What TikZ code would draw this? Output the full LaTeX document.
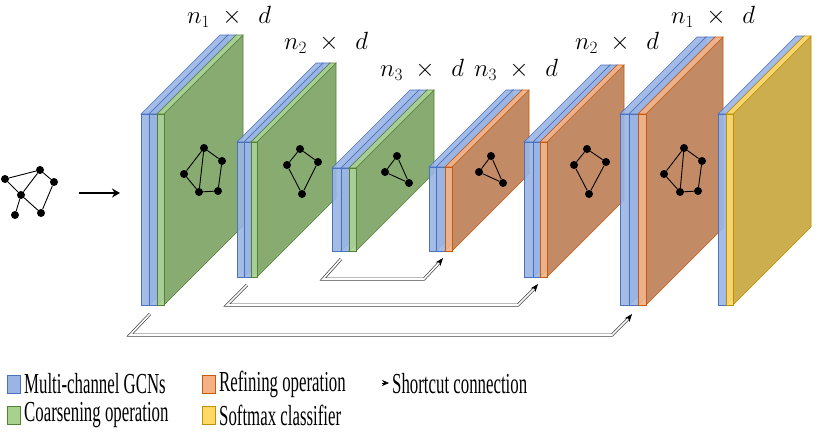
\documentclass[tikz,border=0pt]{standalone}
\usepackage{fontspec}
\setmainfont{Liberation Serif}
\usetikzlibrary{arrows.meta,calc}
\definecolor{bfill}{HTML}{9AB5E3}
\definecolor{bdraw}{HTML}{4A72BE}
\definecolor{gfill}{HTML}{A9D18E}
\definecolor{gdraw}{HTML}{548235}
\definecolor{gside}{HTML}{88AB72}
\definecolor{ofill}{HTML}{F4B183}
\definecolor{odraw}{HTML}{C55A11}
\definecolor{oside}{HTML}{C38B65}
\definecolor{yfill}{HTML}{FFD966}
\definecolor{ydraw}{HTML}{BF9000}
\definecolor{yside}{HTML}{CDAE4E}
\definecolor{sc}{HTML}{404040}
\tikzset{
  dot/.style={circle,fill=black,inner sep=0pt,minimum size=8pt},
  gedge/.style={line width=0.9pt},
  lab/.style={font=\fontsize{26}{30}\selectfont,inner sep=0pt},
  leg/.style={anchor=west,inner sep=0pt},
  shortcut/.style={draw=sc,double=white,double distance=1.6pt,line width=0.7pt},
  tip/.style={line width=0.6pt,-{Stealth[length=8pt,width=6pt]}},
}
\newcommand{\legtext}[1]{\scalebox{0.58}[1]{\fontsize{29}{32}\selectfont #1}}
% slab: x0 x1 ytop ybot fill draw side depth
\newcommand{\myslab}[8]{%
  \fill[#7,draw=#6,line width=0.6pt] (#2,#3) -- ++(#8,-#8) -- ($(#2,#4)+(#8,-#8)$) -- (#2,#4) -- cycle;
  \filldraw[fill=#5,draw=#6,line width=0.6pt,fill opacity=0.9] (#1,#3) -- (#2,#3) -- ++(#8,-#8) -- ($(#1,#3)+(#8,-#8)$) -- cycle;
  \filldraw[fill=#5,draw=#6,line width=0.6pt,fill opacity=0.9] (#1,#3) rectangle (#2,#4);
}
\begin{document}
\begin{tikzpicture}[x=1pt,y=-1pt]
\useasboundingbox (0,0) rectangle (830,437);
% input graph
\node[dot] (i1) at (5,179) {};
\node[dot] (i2) at (40,170) {};
\node[dot] (i3) at (54,182) {};
\node[dot] (i4) at (21,195) {};
\node[dot] (i5) at (15,215) {};
\node[dot] (i6) at (41,213) {};
\draw[gedge] (i1)--(i2) (i1)--(i4) (i2)--(i4) (i2)--(i3) (i3)--(i6) (i4)--(i5) (i4)--(i6);
\coordinate (a0) at (79,193); \coordinate (a1) at (120,193);
\draw[line width=2pt,-{Stealth[length=8pt,width=9pt]}] (a0)--(a1);
% block 1
\myslab{141}{149}{114}{305}{bfill}{bdraw}{bfill}{79}
\myslab{149}{157}{114}{305}{bfill}{bdraw}{bfill}{79}
\myslab{157}{164}{114}{305}{gfill}{gdraw}{gside}{79}
% block 2
\myslab{237}{244}{142}{277}{bfill}{bdraw}{bfill}{79}
\myslab{244}{251}{142}{277}{bfill}{bdraw}{bfill}{79}
\myslab{251}{257}{142}{277}{gfill}{gdraw}{gside}{79}
% block 3
\myslab{332}{341}{168}{251}{bfill}{bdraw}{bfill}{78}
\myslab{341}{349}{168}{251}{bfill}{bdraw}{bfill}{78}
\myslab{349}{356}{168}{251}{gfill}{gdraw}{gside}{78}
% block 4
\myslab{429}{436}{167}{251}{bfill}{bdraw}{bfill}{77}
\myslab{436}{445}{167}{251}{bfill}{bdraw}{bfill}{77}
\myslab{445}{452}{167}{251}{ofill}{odraw}{oside}{77}
% block 5
\myslab{524}{533}{142}{277}{bfill}{bdraw}{bfill}{77}
\myslab{533}{540}{142}{277}{bfill}{bdraw}{bfill}{77}
\myslab{540}{547}{142}{277}{ofill}{odraw}{oside}{77}
% block 6
\myslab{620}{629}{114}{305}{bfill}{bdraw}{bfill}{77}
\myslab{629}{638}{114}{305}{bfill}{bdraw}{bfill}{77}
\myslab{638}{646}{114}{305}{ofill}{odraw}{oside}{77}
% block 7
\myslab{718}{726}{114}{305}{bfill}{bdraw}{bfill}{78}
\myslab{726}{733}{114}{305}{yfill}{ydraw}{yside}{78}
% graphs on faces
\node[dot] (p1) at (204,148) {}; \node[dot] (p2) at (222,161) {};
\node[dot] (p3) at (184,174) {}; \node[dot] (p4) at (199,192) {};
\node[dot] (p5) at (218,191) {};
\draw[gedge] (p1)--(p2) (p1)--(p3) (p1)--(p4) (p3)--(p4) (p4)--(p5) (p5)--(p2);
\node[dot] (q1) at (684,148) {}; \node[dot] (q2) at (702,161) {};
\node[dot] (q3) at (664,174) {}; \node[dot] (q4) at (680,192) {};
\node[dot] (q5) at (698,191) {};
\draw[gedge] (q1)--(q2) (q1)--(q3) (q1)--(q4) (q3)--(q4) (q4)--(q5) (q5)--(q2);
\node[dot] (r1) at (300,149) {}; \node[dot] (r2) at (318,162) {};
\node[dot] (r3) at (287,165) {}; \node[dot] (r4) at (302,194) {};
\draw[gedge] (r1)--(r2) (r1)--(r3) (r3)--(r4) (r2)--(r4);
\node[dot] (s1) at (587,149) {}; \node[dot] (s2) at (606,162) {};
\node[dot] (s3) at (574,165) {}; \node[dot] (s4) at (589,194) {};
\draw[gedge] (s1)--(s2) (s1)--(s3) (s3)--(s4) (s2)--(s4);
\node[dot] (t1) at (397,156) {}; \node[dot] (t2) at (385,172) {};
\node[dot] (t3) at (409,183) {};
\draw[gedge] (t1)--(t2) (t2)--(t3) (t3)--(t1);
\node[dot] (u1) at (491,156) {}; \node[dot] (u2) at (479,172) {};
\node[dot] (u3) at (503,183) {};
\draw[gedge] (u1)--(u2) (u2)--(u3) (u3)--(u1);
% labels
\node[lab] (l1) at (229,17) {$n_1\;\times\;\,d$};
\node[lab] (l2) at (326,43) {$n_2\;\times\;\,d$};
\node[lab] (l3) at (422,70) {$n_3\;\times\;\,d$};
\node[lab] (l4) at (516,70) {$n_3\;\times\;\,d$};
\node[lab] (l5) at (617,43) {$n_2\;\times\;\,d$};
\node[lab] (l6) at (713,17) {$n_1\;\times\;\,d$};
% shortcuts
\coordinate (c1a) at (341,259); \coordinate (c1b) at (323,279);
\coordinate (c1c) at (424,279); \coordinate (c1d) at (439,263);
\coordinate (c1e) at (443,258);
\draw[shortcut] (c1a)--(c1b)--(c1c)--(c1d);
\draw[tip] (c1d)--(c1e);
\coordinate (c2a) at (247,285); \coordinate (c2b) at (227,305);
\coordinate (c2c) at (518,305); \coordinate (c2d) at (534,289);
\coordinate (c2e) at (538,284);
\draw[shortcut] (c2a)--(c2b)--(c2c)--(c2d);
\draw[tip] (c2d)--(c2e);
\coordinate (c3a) at (150,314); \coordinate (c3b) at (130,335);
\coordinate (c3c) at (612,335); \coordinate (c3d) at (628,319);
\coordinate (c3e) at (632,314);
\draw[shortcut] (c3a)--(c3b)--(c3c)--(c3d);
\draw[tip] (c3d)--(c3e);
% legend
\filldraw[fill=bfill,draw=bdraw] (7,375) rectangle (20,393);
\node[leg] (t1l) at (24,384) {\legtext{Multi-channel GCNs}};
\filldraw[fill=gfill,draw=gdraw] (7,406) rectangle (20,424);
\node[leg] (t2l) at (24,415) {\legtext{Coarsening operation}};
\filldraw[fill=ofill,draw=odraw] (202,375) rectangle (215,393);
\node[leg] (t3l) at (219,384) {\legtext{Refining operation}};
\filldraw[fill=yfill,draw=ydraw] (202,406) rectangle (215,424);
\node[leg] (t4l) at (219,415) {\legtext{Softmax classifier}};
\coordinate (k0) at (359,383); \coordinate (k1) at (382,383); \coordinate (k2) at (389,383);
\draw[draw=sc,double=white,double distance=1.4pt,line width=0.6pt] (k0)--(k1);
\draw[line width=0.6pt,-{Stealth[length=7pt,width=6pt]}] (k1)--(k2);
\node[leg] (t5l) at (392,384) {\legtext{Shortcut connection}};
\end{tikzpicture}
\end{document}
